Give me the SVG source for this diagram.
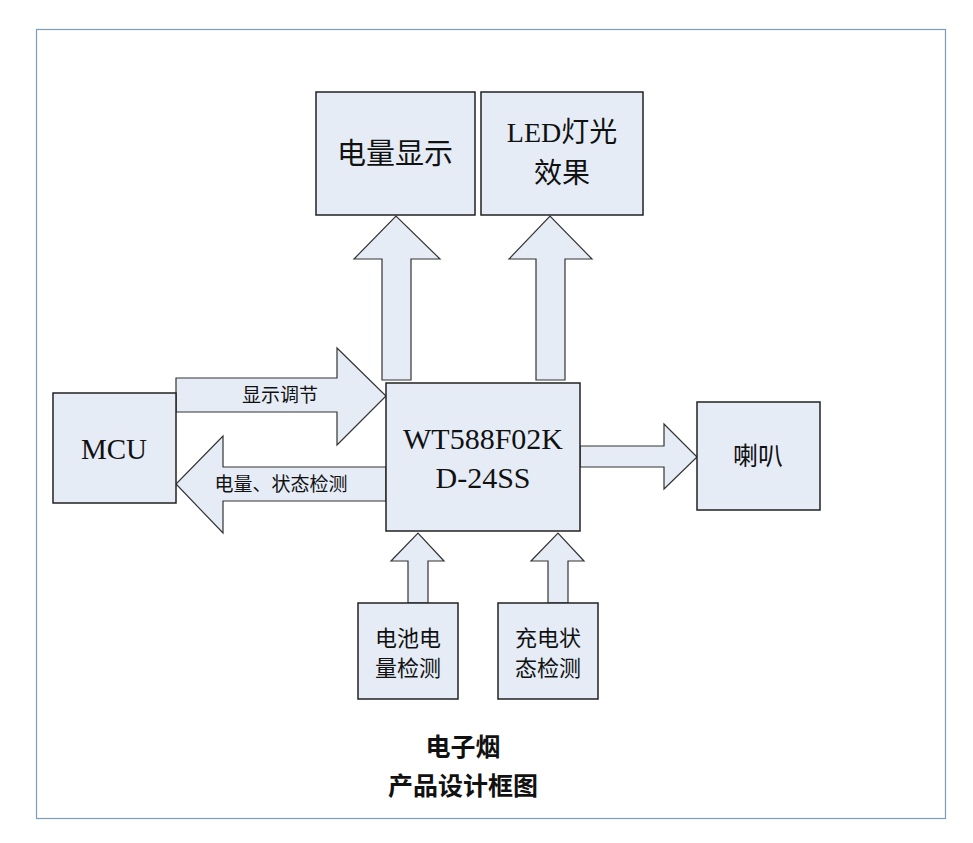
<svg xmlns="http://www.w3.org/2000/svg" width="973" height="843" viewBox="0 0 973 843">
<style>
.b{fill:#e6ecf6;stroke:#222;stroke-width:1.5}
.a{fill:#e6ecf6;stroke:#333;stroke-width:1.2}
.t{font-family:"Liberation Serif","Noto Sans CJK SC",serif;fill:#111;text-anchor:middle}
</style>
<rect x="0" y="0" width="973" height="843" fill="#fff"/>
<rect x="36.5" y="29.5" width="909" height="789" fill="none" stroke="#7f9db9" stroke-width="1.2"/>
<g id="connectors">
<polygon class="a" points="382,380 382,259 354,259 396,216 440,259 411,259 411,380"/>
<polygon class="a" points="536,380 536,259 509,259 550,216 592,259 565,259 565,380"/>
<polygon class="a" points="176,378 337,378 337,348 386,396 337,445 337,412 176,412"/>
<polygon class="a" points="386,467 223,467 223,436 176,484 223,533 223,501 386,501"/>
<polygon class="a" points="580,446 664,446 664,424 697,457 664,489 664,467 580,467"/>
<polygon class="a" points="408,603 408,561 391,561 418,533 444,561 428,561 428,603"/>
<polygon class="a" points="548,603 548,561 531,561 558,533 584,561 568,561 568,603"/>
<text class="t" x="280" y="402" font-size="19">显示调节</text>
<text class="t" x="281" y="491" font-size="19">电量、状态检测</text>
</g>
<g id="n1"><rect class="b" x="316" y="92" width="159" height="123"/><text class="t" x="395" y="164" font-size="29">电量显示</text></g>
<g id="n2"><rect class="b" x="481" y="92" width="162" height="123"/><text class="t" x="562" y="142" font-size="28">LED灯光</text><text class="t" x="562" y="183" font-size="28">效果</text></g>
<g id="main"><rect class="b" x="386" y="383" width="194" height="148"/><text class="t" x="483" y="449" font-size="30">WT588F02K</text><text class="t" x="483" y="488" font-size="30">D-24SS</text></g>
<g id="mcu"><rect class="b" x="53" y="393" width="123" height="110"/><text class="t" x="114" y="459" font-size="29">MCU</text></g>
<g id="spk"><rect class="b" x="697" y="402" width="123" height="108"/><text class="t" x="758" y="465" font-size="25">喇叭</text></g>
<g id="bat"><rect class="b" x="358" y="603" width="100" height="96"/><text class="t" x="408" y="646" font-size="22">电池电</text><text class="t" x="408" y="676" font-size="22">量检测</text></g>
<g id="chg"><rect class="b" x="498" y="603" width="100" height="96"/><text class="t" x="548" y="646" font-size="22">充电状</text><text class="t" x="548" y="676" font-size="22">态检测</text></g>
<g id="title"><text class="t" x="463" y="756" font-size="25" font-weight="bold">电子烟</text><text class="t" x="463" y="795" font-size="25" font-weight="bold">产品设计框图</text></g>
</svg>
